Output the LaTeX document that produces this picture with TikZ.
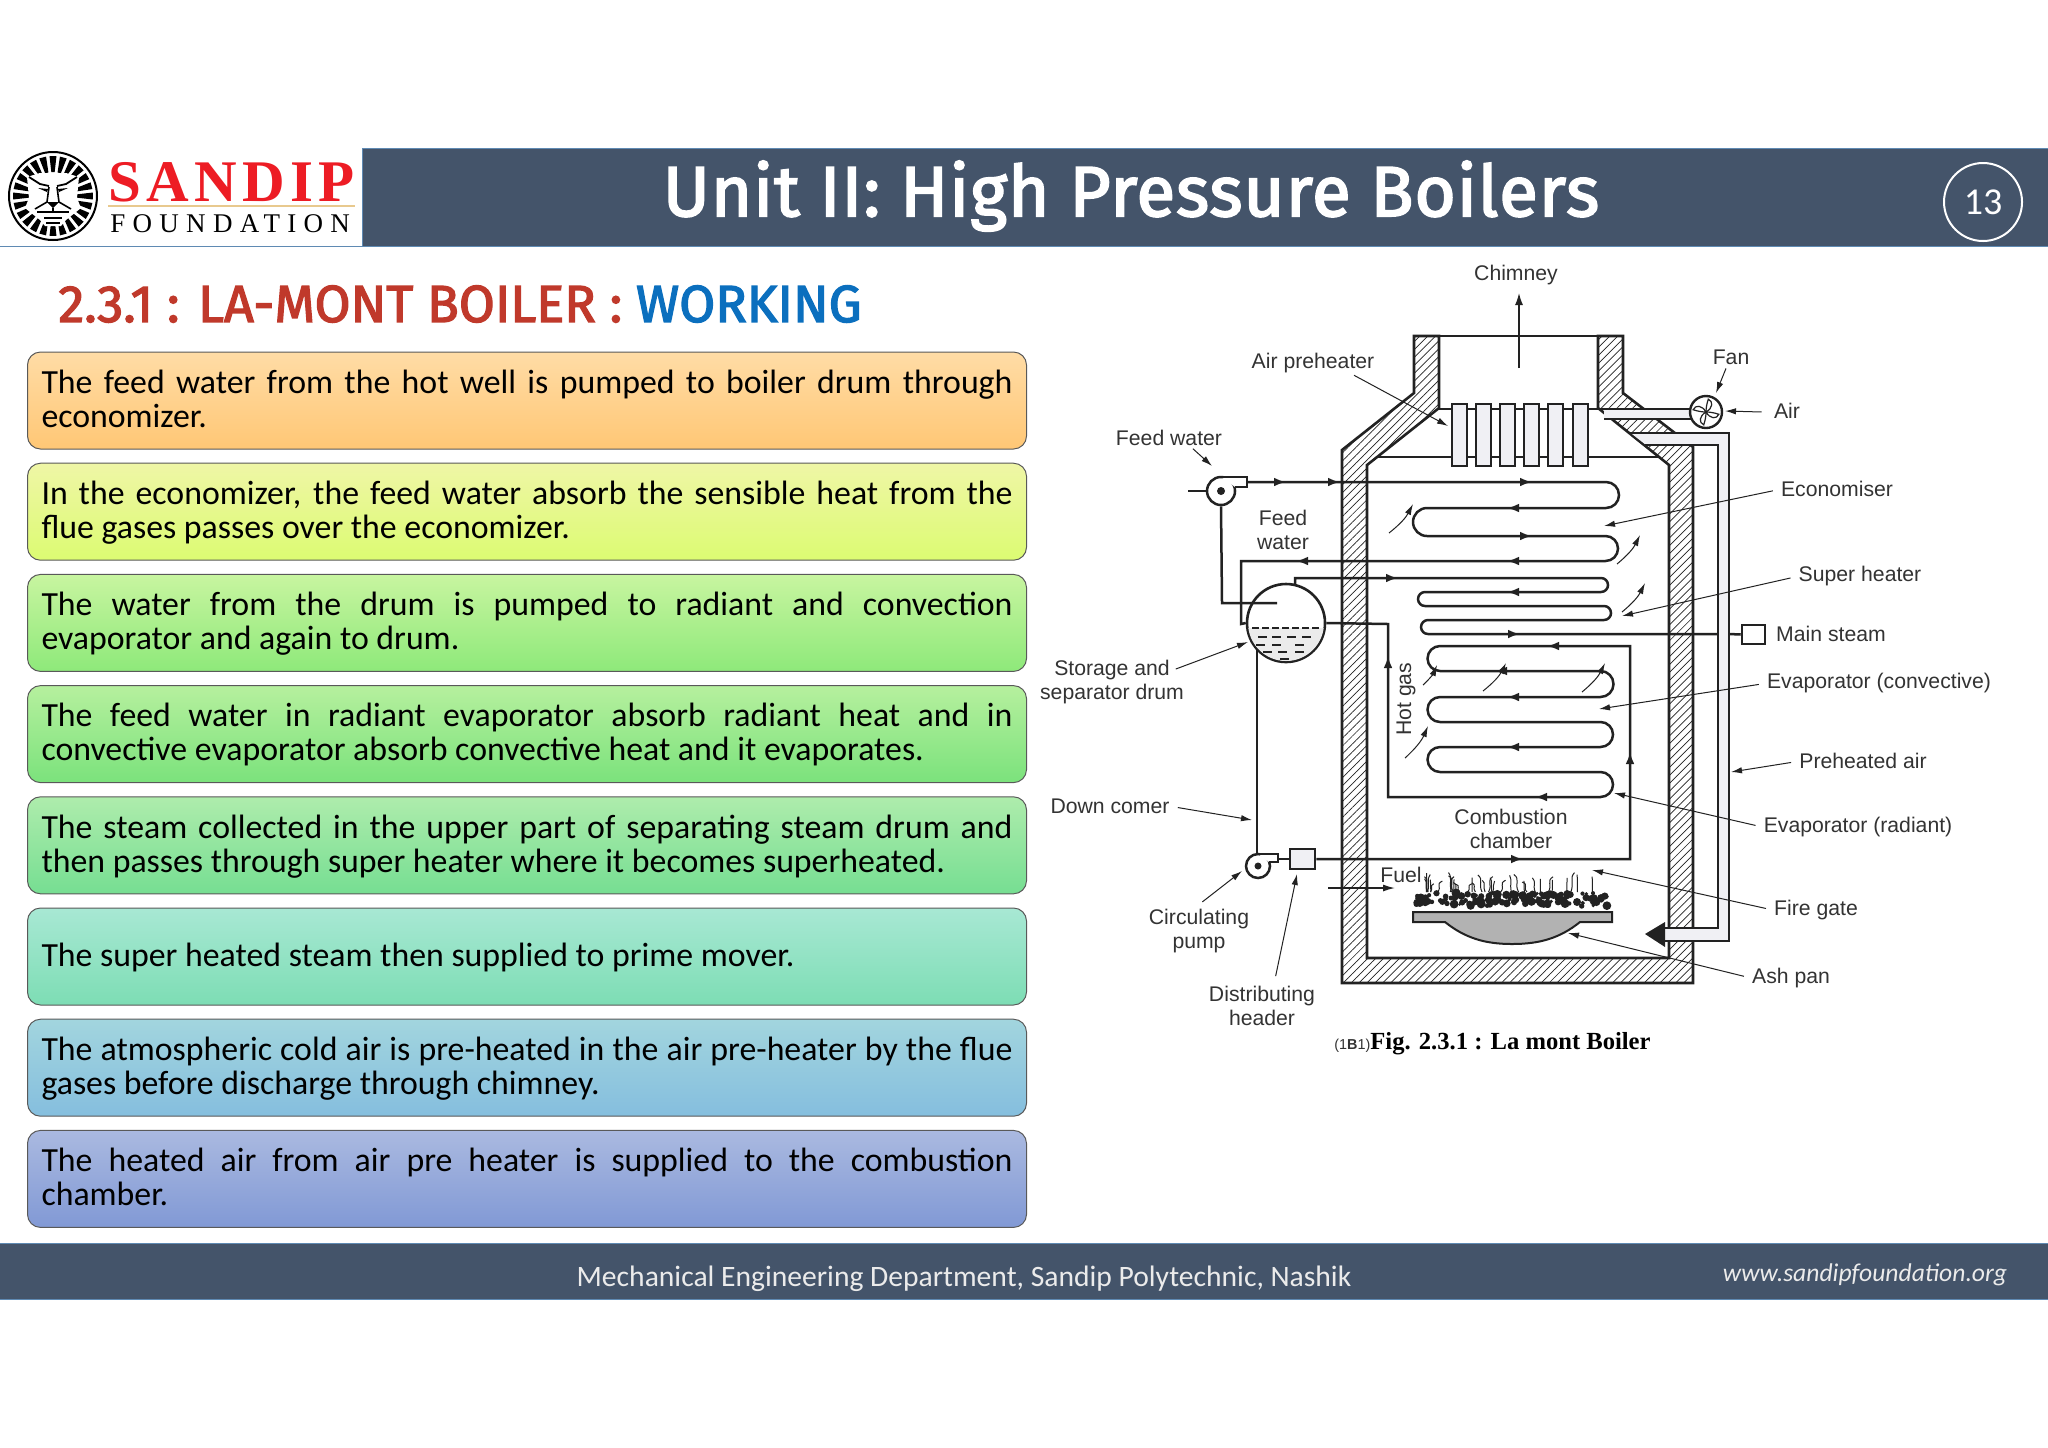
\documentclass[tikz,border=0pt]{standalone}
\usepackage{fontspec}
\setmainfont{Carlito}
\newfontfamily\lblfont{Liberation Sans}
\newfontfamily\srffont{Liberation Serif}
\newfontfamily\ttlfont[FakeBold=2.5,LetterSpace=1.3]{Fira Sans}
\newfontfamily\hdgfont[FakeBold=2.5]{Fira Sans}
\usetikzlibrary{calc,math,patterns.meta,arrows.meta,shapes.geometric}
\definecolor{barblue}{HTML}{44546A}
\definecolor{barline}{HTML}{5F8AB3}
\definecolor{myred}{HTML}{C0392B}
\definecolor{myblue}{HTML}{0B6FBE}
\definecolor{logored}{HTML}{ED1C24}
\definecolor{logogold}{HTML}{E8C98E}
\definecolor{ductfill}{HTML}{F0F0F4}
\definecolor{inkgrey}{HTML}{222222}
\definecolor{lbltxt}{HTML}{333333}
\tikzset{
 infobox/.style={draw=black!65,line width=0.5pt,rounded corners=6.5pt,anchor=north west,
  minimum height=48.5pt,inner xsep=7pt,inner ysep=0pt,text width=485.5pt,align=justify,
  execute at begin node={\hyphenpenalty=10000\exhyphenpenalty=10000\tolerance=10000},
  font=\fontsize{16.9}{17}\selectfont},
 wall/.style={draw=inkgrey,line width=1.3pt,line join=miter,
  pattern={Lines[angle=45,distance=2.8pt,line width=0.35pt]},pattern color=inkgrey},
 pipe/.style={draw=inkgrey,line width=1.25pt},
 duct/.style={draw=inkgrey,line width=1.25pt},
 leader/.style={draw=inkgrey,line width=0.5pt,shorten <=4pt,-{Latex[length=5.5pt,width=3.2pt]}},
 gasflow/.style={draw=inkgrey,line width=0.5pt,-{Latex[length=5.5pt,width=3.2pt]}},
 flowtip/.style={draw=inkgrey,line width=1.25pt,-{Latex[length=6pt,width=4.4pt]}},
 lbl/.style={font=\lblfont\fontsize{10.6}{12.1}\selectfont,text=lbltxt,align=center,inner sep=0pt,yshift=-0.6pt},
}
\begin{document}
\begin{tikzpicture}[x=0.5pt,y=-0.5pt]
\tikzmath{
\wL=1342; \wLi=1367; \wR=1693; \wRi=1669;
\wB=983; \wBi=958; \cT=336;
\dOut=1729; \dIn=1718;
}
\useasboundingbox (0,0) rectangle (2048,1447);

%header
\fill[white] (0,0) rectangle (2048,1447);
\draw[barline,line width=0.5pt] (0,246) -- (362,246);
\draw[fill=barblue,draw=barline,line width=0.5pt] (362,148) rectangle (2050,246);
\node[text=white,inner sep=0pt,font=\ttlfont\fontsize{35.5}{38}\selectfont] (title) at (1131,196) {Unit II: High Pressure Boilers};
\node[draw=white,line width=1pt,circle,minimum size=39pt,inner sep=0pt,text=white,font=\fontsize{19}{20}\selectfont] (pageno) at (1983,202) {13};

%logo
\begin{scope}[shift={(53,196)}]
\draw[line width=1pt] (0,0) circle (44);
\foreach \a in {0,15,...,345}{
\fill ($(\a-4:24)$) -- ($(\a-5:40)$) -- ($(\a+5:40)$) -- ($(\a+4:24)$) -- cycle;
}
\fill[white] (-26,-19) -- (-13,-23) -- (13,-23) -- (26,-19) -- (24,2) -- (28,12) -- (13,24) -- (8,30) -- (-8,30) -- (-13,24) -- (-28,12) -- (-24,2) -- cycle;
\draw[line width=0.9pt] (-24,-19) -- (-13,-12) -- (-4,-10) (24,-19) -- (13,-12) -- (4,-10);
\fill (-15,-8) -- (-5,-7) -- (-6,-4) -- cycle (15,-8) -- (5,-7) -- (6,-4) -- cycle;
\draw[line width=0.8pt] (-4,-9) -- (-6,6) -- (-18,13) (4,-9) -- (6,6) -- (18,13);
\fill (-6,6) -- (6,6) -- (0,12) -- cycle;
\draw[line width=0.8pt] (0,12) -- (0,16) (-16,16) -- (0,16) -- (16,16) (-9,22) -- (9,22) (-7,27) -- (7,27);
\end{scope}
\node[text=logored,inner sep=0pt,anchor=base west,font=\srffont\bfseries\fontsize{29.5}{32}\selectfont,
 ] (sandip) at (108,201) {\addfontfeature{LetterSpace=9}SANDIP};
\draw[logogold,line width=1pt] (108,206) -- (355,206);
\node[inner sep=0pt,anchor=base west,font=\srffont\fontsize{13.5}{15}\selectfont] (found) at (110,232) {\addfontfeature{LetterSpace=27}FOUNDATION};

%heading
\node[anchor=west,inner sep=0pt,font=\hdgfont\fontsize{26.1}{28}\selectfont,text=myred] (heading) at (58,304) {2.3.1 : LA-MONT BOILER : \textcolor{myblue}{WORKING}};

%text boxes
\foreach \i/\ctop/\cbot/\txt in {
0/FFDCA6/FFC775/{The feed water from the hot well is pumped to boiler drum through economizer.},
1/EFF6A6/DCFB72/{In the economizer, the feed water absorb the sensible heat from the\linebreak flue gases passes over the economizer.},
2/C8F5A0/8EE97A/{The water from the drum is pumped to radiant and convection evaporator and again to drum.},
3/B6F09E/7BE27C/{The feed water in radiant evaporator absorb radiant heat and in convective evaporator absorb convective heat and it evaporates.},
4/AEECAC/76DE92/{The steam collected in the upper part of separating steam drum and then passes through super heater where it becomes superheated.},
5/A8E8D4/7DDDB4/{The super heated steam then supplied to prime mover.},
6/A2D5DE/85BEDE/{The atmospheric cold air is pre-heated in the air pre-heater by the flue gases before discharge through chimney.},
7/AAB9E0/8199D5/{The heated air from air pre heater is supplied to the combustion chamber.}}{
\definecolor{ctopc}{HTML}{\ctop}
\definecolor{cbotc}{HTML}{\cbot}
\node[infobox,top color=ctopc,bottom color=cbotc] (box\i) at (27,351.5+111.2*\i) {\rule{0pt}{14.2pt}\txt\rule[-4.5pt]{0pt}{4.5pt}};
}

%footer
\draw[fill=barblue,draw=barline,line width=0.5pt] (-2,1243) rectangle (2050,1299);
\node[text=black!8,inner sep=0pt,font=\fontsize{14.8}{17}\selectfont] (foot) at (964,1279) {Mechanical Engineering Department, Sandip Polytechnic, Nashik};
\node[text=black!8,inner sep=0pt,font=\itshape\fontsize{12.8}{16}\selectfont] (web) at (1865,1275) {www.sandipfoundation.org};

%furnace wall
\draw[wall] (\wL,\wB) -- (\wL,450) -- (1414,393) -- (1414,\cT) -- (1439,\cT) -- (1439,408) -- (\wLi,465) -- (\wLi,\wBi)
 -- (\wRi,\wBi) -- (\wRi,465) -- (1598,408) -- (1598,\cT) -- (1623,\cT) -- (1623,393) -- (\wR,447) -- (\wR,\wB) -- cycle;
\draw[draw=inkgrey,line width=1.3pt] (1439,\cT) -- (1598,\cT);

%air ducts
\fill[ductfill] (1604,410) rectangle (1692,418);
\fill[ductfill] (1632,434) -- (\dOut,434) -- (\dOut,941) -- (1665,941) -- (1665,928) -- (\dIn,928) -- (\dIn,445) -- (1646,445) -- cycle;
\node[draw=inkgrey,line width=1.2pt,circle,fill=white,minimum size=16pt,inner sep=0pt] (fan) at (1706,412) {};
\draw[duct] (1598,409) -- (1691,409);
\draw[duct] (1604,419) -- (1691,419);
\draw[duct] (1630,433) -- (\dOut,433) -- (\dOut,941) -- (1665,941);
\draw[duct] (1645,445) -- (\dIn,445) -- (\dIn,928) -- (1665,928);
\fill[inkgrey] (1665,922) -- (1645,934) -- (1665,947) -- cycle;
\foreach \a in {0,90,180,270}{
\draw[inkgrey,line width=0.6pt] (fan.center) .. controls ($(fan.center)+(\a+60:8)$) and ($(fan.center)+(\a+35:13)$) .. ($(fan.center)+(\a+10:13)$) .. controls ($(fan.center)+(\a+5:8)$) and ($(fan.center)+(\a:4)$) .. (fan.center);
}

%air preheater
\draw[pipe] (1439,409) -- (1598,409);
\draw[pipe] (1378,457) -- (1660,457);
\foreach \x in {1452,1476,1500,1524,1548,1573}{
\draw[pipe,fill=ductfill] (\x,404) rectangle (\x+15,466);
}

%drum and pumps
\node[draw=inkgrey,line width=1.3pt,circle,fill=white,minimum size=39pt,inner sep=0pt] (drum) at (1286,623) {};
\begin{scope}
\clip (1286,623) circle (38);
\fill[black!8] (1240,628) rectangle (1330,665);
\end{scope}
\foreach \x in {1252,1262,...,1316}{
\draw[inkgrey,line width=1.4pt] (\x,628) -- (\x+7,628);
}
\foreach \x/\y in {1258/637,1272/637,1287/637,1302/637,1256/645,1272/645,1295/645,1263/652,1278/652,1295/652,1280/659}{
\draw[inkgrey,line width=0.6pt] (\x,\y) -- (\x+9,\y);
}
\node[draw=inkgrey,line width=1.25pt,circle,fill=white,minimum size=14pt,inner sep=0pt] (fwpump) at (1221,491) {};
\draw[pipe,fill=white] (1221,477) -- (1247,477) -- (1247,487) -- (1235,487);
\fill[inkgrey] (1221,491) circle (4);
\node[draw=inkgrey,line width=1.25pt,circle,fill=white,minimum size=12pt,inner sep=0pt] (cirpump) at (1258,866) {};
\draw[pipe,fill=white] (1258,854) -- (1278,854) -- (1278,862) -- (1269,862);
\fill[inkgrey] (1258,866) circle (3.5);
\node[draw=inkgrey,line width=1.3pt,fill=ductfill,minimum width=12.5pt,minimum height=10pt,inner sep=0pt] (dhdr) at (1302.5,859) {};
\node[draw=inkgrey,line width=1.3pt,fill=white,minimum width=11.5pt,minimum height=9.5pt,inner sep=0pt] (msbox) at (1753.5,634.5) {};

%pipes
\draw[pipe] (1188,491) -- (fwpump.west);
\draw[pipe] (fwpump.south) -- (1222,603) -- (1277,603);
\draw[pipe] (1247,482) -- (1606,482) arc(-90:90:13) -- (1427,508) arc(-90:-270:14) -- (1605.5,536) arc(-90:90:12.5) -- (1241,561) -- (1241,624) -- (drum.west);
\draw[pipe] (1295,585) -- (1295,578) -- (1601,578) arc(-90:90:7) -- (1425,592) arc(-90:-270:7) -- (1604,606) arc(-90:90:7) -- (1428,620) arc(-90:-270:7) -- (\dIn,634);
\draw[pipe] (\dOut,634) -- (msbox.west);
\draw[pipe] (dhdr.east) -- (1630,859) -- (1630,646) -- (1440,646) arc(-90:-270:12.5) -- (1600.5,671) arc(-90:90:13) -- (1440,697) arc(-90:-270:12.5) -- (1600.5,722) arc(-90:90:12.5) -- (1440,747) arc(-90:-270:12.5) -- (1600.5,772) arc(-90:90:12.5) -- (1388,797) -- (1388,624) -- (drum.east);
\draw[pipe] (1257,649) -- (1257,854);
\draw[pipe] (1278,859) -- (dhdr.west);

%flow tips on the pipes
\foreach \x/\y/\s in {1286/482/1,1340/482/1,1532/482/1,1507/508/-1,1532/536/1,1507/561/-1,1296/561/-1,1398/578/1,1507/592/-1,1520/634/1,1495/671/-1,1507/697/-1,1507/747/-1,1535/797/-1,1547/646/-1,1523/859/1}{
\draw[flowtip] (\x-8*\s,\y) -- (\x,\y);
}
\draw[flowtip] (1388,670) -- (1388,656);
\draw[flowtip] (1630,766) -- (1630,752);

%hot gas arrows
\draw[gasflow] (1389,533) to[bend right=12] (1413,504);
\draw[gasflow] (1617,564) to[bend right=12] (1640,535);
\draw[gasflow] (1622,612) to[bend right=12] (1645,583);
\draw[gasflow] (1423,685) to[bend right=12] (1437,665);
\draw[gasflow] (1483,691) to[bend right=12] (1506,663);
\draw[gasflow] (1582,692) to[bend right=12] (1605,663);
\draw[gasflow] (1405,758) to[bend right=12] (1428,726);

%grate and fuel
\draw[inkgrey,line width=1pt,fill=black!30] (1413,912) -- (1612,912) -- (1612,922) -- (1580,922) .. controls (1560,938) and (1540,944) .. (1512,944) .. controls (1485,944) and (1465,938) .. (1445,922) -- (1413,922) -- cycle;
\pgfmathsetseed{11}
\foreach \k in {1,...,150}{
\pgfmathsetmacro{\bx}{1416+rnd*194}
\pgfmathsetmacro{\by}{893+rnd*13}
\pgfmathsetmacro{\br}{1.5+rnd*3}
\fill[inkgrey] (\bx,\by) circle (\br);
}
\foreach \k in {1,...,34}{
\pgfmathsetmacro{\fx}{1424+rnd*184}
\pgfmathsetmacro{\fw}{-5+rnd*10}
\pgfmathsetmacro{\fh}{8+rnd*12}
\draw[inkgrey,line width=0.5pt] (\fx,892) .. controls (\fx+\fw,892-\fh*0.5) and (\fx-\fw*0.5,892-\fh*0.7) .. (\fx+\fw,892-\fh);
}

%labels
\node[lbl] (lChim) at (1516,274) {Chimney};
\node[lbl] (lApre) at (1313,362) {Air preheater};
\node[lbl] (lFeed) at (1169,437) {Feed water};
\node[lbl] (lFwtr) at (1283,529) {Feed\\water};
\node[lbl] (lDrum) at (1112,681) {Storage and\\separator drum};
\node[lbl,rotate=90,xshift=-1pt,yshift=1pt] (lHot) at (1408,696) {Hot gas};
\node[lbl] (lDown) at (1110,805) {Down comer};
\node[lbl] (lCirc) at (1199,930) {Circulating\\pump};
\node[lbl] (lDist) at (1262,1005) {Distributing\\header};
\node[lbl] (lComb) at (1511,828) {Combustion\\chamber};
\node[lbl,anchor=west] (lFuel) at (1380,874) {Fuel};
\node[lbl] (lFan) at (1731,356) {Fan};
\node[lbl] (lAir) at (1787,410) {Air};
\node[lbl] (lEcon) at (1837,488) {Economiser};
\node[lbl] (lSup) at (1860,575) {Super heater};
\node[lbl] (lMain) at (1831,633) {Main steam};
\node[lbl] (lEvc) at (1879,682) {Evaporator (convective)};
\node[lbl] (lPre) at (1863,760) {Preheated air};
\node[lbl] (lEvr) at (1858,826) {Evaporator (radiant)};
\node[lbl] (lFire) at (1816,909) {Fire gate};
\node[lbl] (lAsh) at (1791,977) {Ash pan};
\node[anchor=west,inner sep=0pt,yshift=-1pt] (lFig) at (1334,1042) {{\lblfont\fontsize{7.2}{9}\selectfont\textcolor{lbltxt}{(1\textbf{B}1)}}{\srffont\bfseries\fontsize{12.3}{14}\selectfont Fig. 2.3.1 : La mont Boiler}};

%leader ends
\coordinate (tApre) at (1448,426);
\coordinate (tFeed) at (1212,466);
\coordinate (tDrum) at (1248,642);
\coordinate (tDown) at (1252,820);
\coordinate (tCirc) at (1242,871);
\coordinate (tDist) at (1297,874);
\coordinate (tFan) at (1716,393);
\coordinate (tAir) at (1725,411);
\coordinate (tEcon) at (1604,526);
\coordinate (tSup) at (1622,616);
\coordinate (tEvc) at (1599,709);
\coordinate (tPre) at (1731,772);
\coordinate (tEvr) at (1614,793);
\coordinate (tFire) at (1592,870);
\coordinate (tAsh) at (1568,933);
\coordinate (tChim) at (1519,293);
\coordinate (sChim) at (1519,368);
\coordinate (sFuel) at (1328,888);
\coordinate (tFuel) at (1395,888);

%leaders
\draw[leader] ($(lApre.south)+(34,-2)$) -- (tApre);
\draw[leader] ($(lFeed.south)+(18,-3)$) -- (tFeed);
\draw[leader] ($(lDrum.north east)+(-16,12)$) -- (tDrum);
\draw[leader] (lDown.east) -- (tDown);
\draw[leader] ($(lCirc.north)+(-3,-2)$) -- (tCirc);
\draw[leader] ($(lDist.north)+(12,-2)$) -- (tDist);
\draw[leader] ($(lFan.south)+(-2,-4)$) -- (tFan);
\draw[leader] ($(lAir.west)+(-4,1)$) -- (tAir);
\draw[leader] (lEcon.west) -- (tEcon);
\draw[leader] (lSup.west) -- (tSup);
\draw[leader] (lEvc.west) -- (tEvc);
\draw[leader] (lPre.west) -- (tPre);
\draw[leader] (lEvr.west) -- (tEvr);
\draw[leader] (lFire.west) -- (tFire);
\draw[leader] (lAsh.west) -- (tAsh);
\draw[-{Latex[length=6pt,width=4pt]},inkgrey,line width=0.7pt] (sChim) -- (tChim);
\draw[-{Latex[length=6pt,width=3.5pt]},inkgrey,line width=0.7pt] (sFuel) -- (tFuel);
\end{tikzpicture}
\end{document}
